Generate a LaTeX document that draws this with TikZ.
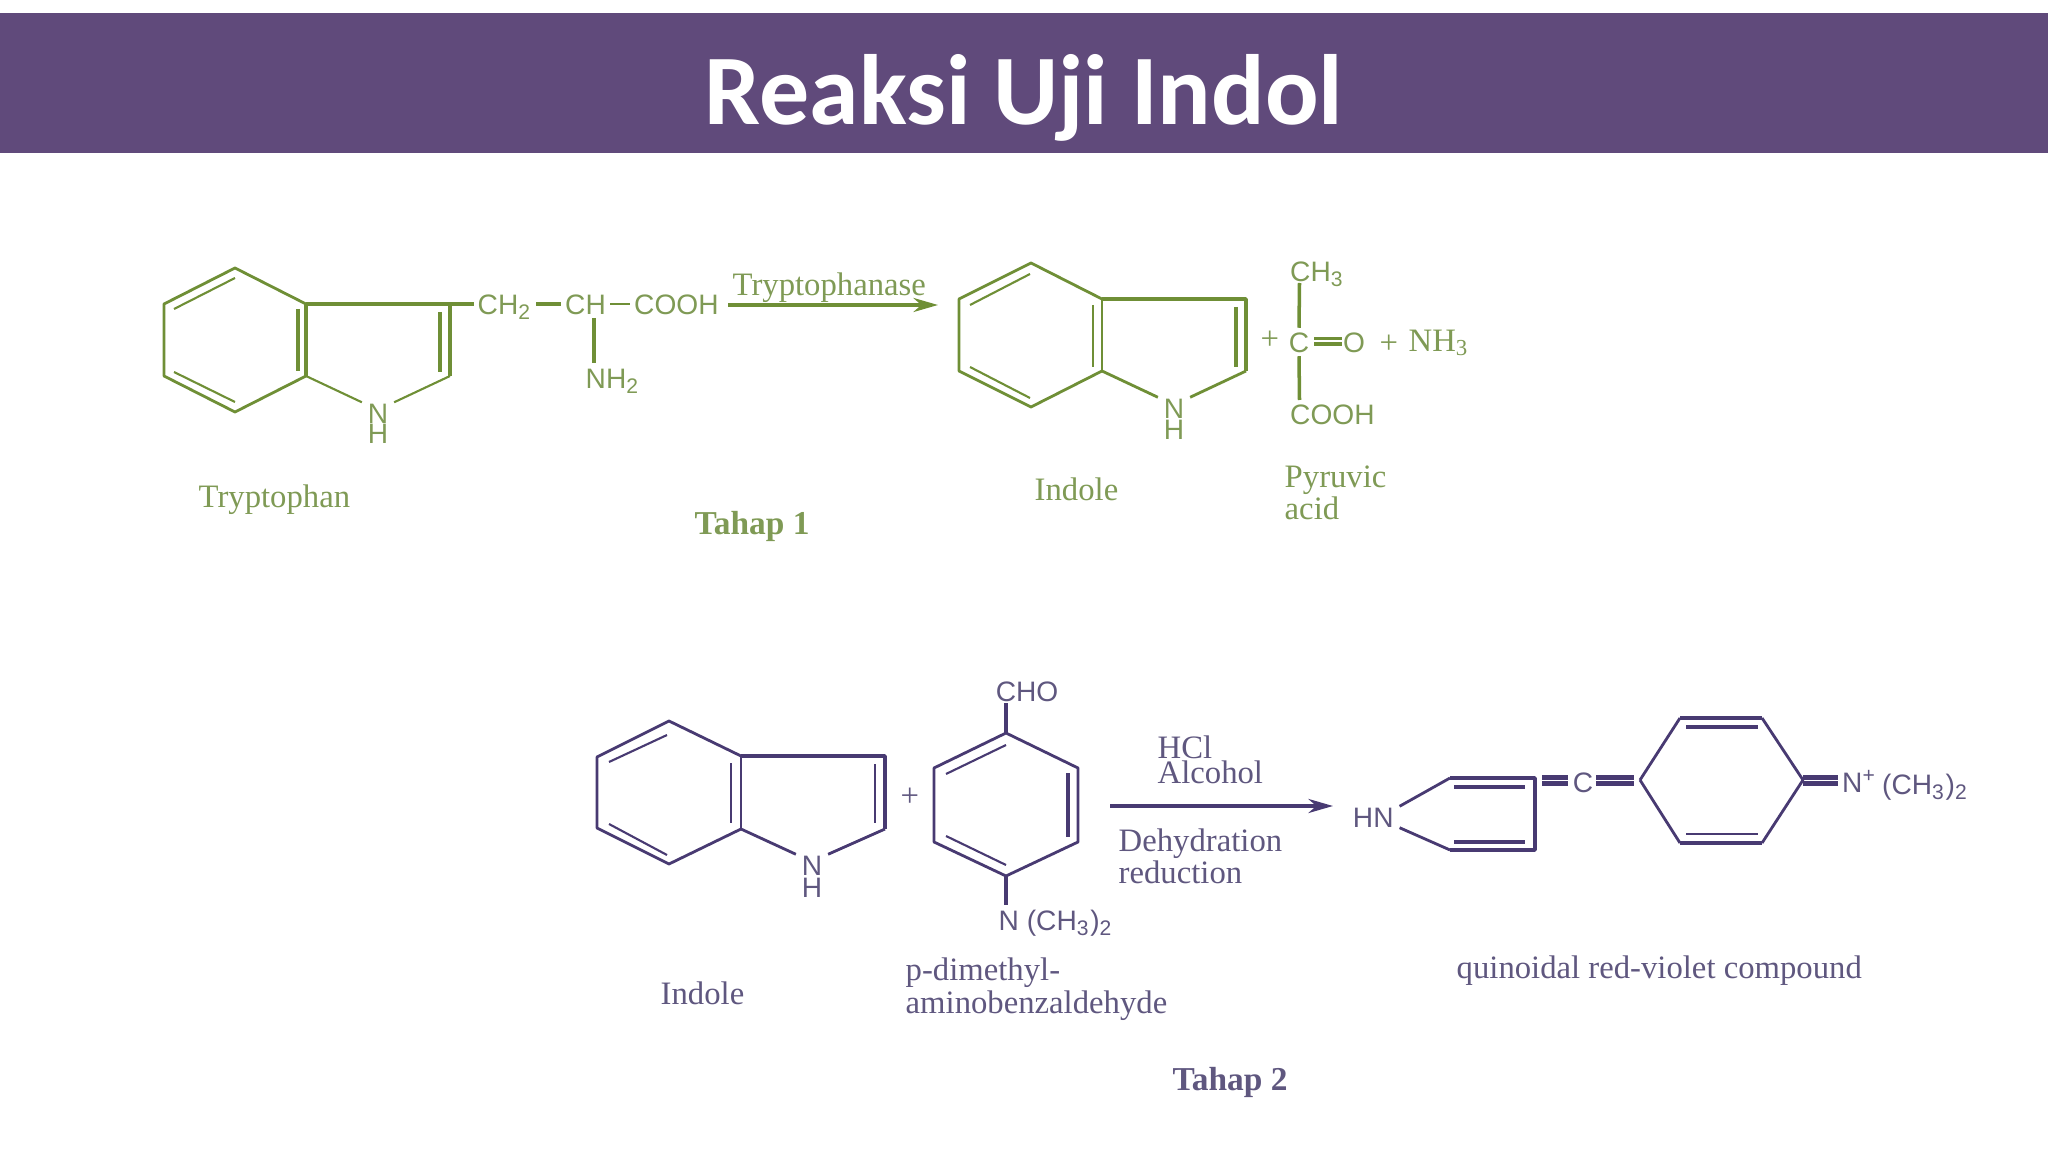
\documentclass[tikz,border=0pt]{standalone}
\usepackage{fontspec}
\usetikzlibrary{arrows.meta}
\setmainfont{Liberation Serif}
\newfontfamily\chemfont{Liberation Sans}
\newfontfamily\titlefont{Carlito}
\definecolor{bandcol}{HTML}{604A7B}
\definecolor{grnline}{HTML}{6F8F36}
\definecolor{grntext}{HTML}{7F9A55}
\definecolor{violine}{HTML}{483A72}
\definecolor{viotext}{HTML}{5F577F}
\tikzset{
  chem/.style={font=\fontsize{8}{9}\chemfont,inner sep=1pt,text height=5.7pt,text depth=0pt},
  ringn/.style={chem,inner xsep=1.5pt,inner ysep=0pt},
  lab/.style={font=\fontsize{9.3}{11}\selectfont,inner sep=0pt,anchor=west},
  labb/.style={font=\fontsize{9.5}{11}\selectfont\bfseries,inner sep=0pt,anchor=west},
  bond/.style={line width=.8pt},
  mid bond/.style={line width=1pt},
  thin bond/.style={line width=.6pt},
  fat bond/.style={line width=1.4pt},
  rxn/.style={line width=1pt,-{Stealth[length=7pt,width=4pt]}}
}
\begin{document}
\begin{tikzpicture}[x=0.01cm,y=-0.01cm,line join=round,line cap=butt]
\useasboundingbox (0,0) rectangle (2048,1152);
\fill[bandcol] (0,13) rectangle (2048,153);
\node[font=\fontsize{28.4}{32}\titlefont\bfseries,text=white] (title) at (1024,98) {Reaksi Uji Indol};
% tahap 1, tryptophan
\begin{scope}[color=grnline,text=grntext]
\draw[bond] (306,304)--(235,268)--(164,304)--(164,376)--(235,412)--(306,376);
\draw[thin bond] (174,309)--(235,278) (174,372)--(235,402);
\draw[mid bond] (306,304)--(306,376) (298,309)--(298,371);
\draw[mid bond] (450,304)--(450,376) (440,312)--(440,372);
\node[ringn] (trpn) at (378,413) {N};
\node[ringn] (trph) at (378,433) {H};
\draw[thin bond] (306,376)--(trpn.north west) (450,376)--(trpn.north east);
\node[chem,anchor=west] (trpch2) at (473.5,304) {CH\textsubscript{2}};
\node[chem,anchor=west] (trpch) at (561,304) {CH};
\node[chem,anchor=west] (trpcooh) at (630,304) {COOH};
\node[chem,anchor=west] (trpnh2) at (581.5,378) {NH\textsubscript{2}};
\coordinate (trpa) at (594,318);
\coordinate (trpb) at (594,363);
\draw[fat bond] (306,304)--(trpch2.west);
\draw[fat bond] (trpch2.east)--(trpch.west);
\draw[thin bond] (trpch.east)--(trpcooh.west);
\draw[mid bond] (trpa)--(trpb);
\node[lab] (trplab) at (198,500) {Tryptophan};
\node[labb] (tahap1) at (694,526) {Tahap 1};
% arrow 1
\node[lab] (enz) at (732,288) {Tryptophanase};
\coordinate (a1) at (728,305);
\coordinate (a2) at (938,305);
\draw[rxn] (a1)--(a2);
% indole and pyruvic acid
\draw[bond] (1102,299)--(1031,263)--(959,299)--(959,371)--(1031,407)--(1102,371);
\draw[thin bond] (970,305)--(1030,274) (970,367)--(1030,398);
\draw[bond] (1102,299)--(1102,371) (1093,305)--(1093,367);
\draw[mid bond] (1102,299)--(1246,299)--(1246,371) (1236,307)--(1236,367);
\node[ringn] (indn) at (1174,408) {N};
\node[ringn] (indh) at (1174,429) {H};
\draw[bond] (1102,371)--(indn.north west) (1246,371)--(indn.north east);
\node[lab] (plus1) at (1260,340) {+};
\node[chem] (pyrc) at (1299,342) {C};
\node[chem] (pyro) at (1354,342) {O};
\node[chem,anchor=west] (pyrch3) at (1286,271) {CH\textsubscript{3}};
\node[chem,anchor=west] (pyrcooh) at (1286,414) {COOH};
\coordinate (pc1) at (1299.5,283);
\coordinate (pc2) at (1299.5,400);
\draw[mid bond] (pc1)--(pyrc.north) (pyrc.south)--(pc2);
\draw[mid bond] (1314,338.5)--(1342,338.5) (1314,344)--(1342,344);
\node[lab] (plus2) at (1379,344) {+};
\node[lab] (nh3) at (1408,343) {NH\textsubscript{3}};
\node[lab] (indlab) at (1034,489) {Indole};
\node[lab] (pyr1) at (1284,480) {Pyruvic};
\node[lab] (pyr2) at (1284,508) {acid};
\end{scope}
% tahap 2, indole
\begin{scope}[color=violine,text=viotext]
\draw[bond] (741,756)--(669,721)--(597,757)--(597,828)--(669,864)--(741,829);
\draw[thin bond] (609,762)--(667,735) (609,824)--(667,855);
\draw[bond] (741,756)--(741,829) (731,763)--(731,823);
\draw[mid bond] (741,756)--(885,756)--(885,829);
\draw[thin bond] (875,764)--(875,823);
\node[ringn] (vin) at (812,865) {N};
\node[ringn] (vih) at (812,887) {H};
\draw[bond] (741,829)--(vin.north west) (885,829)--(vin.north east);
\node[lab] (plus3) at (900,797) {+};
% benzaldehyde
\coordinate (btop) at (1006,733);
\coordinate (bbot) at (1006,876);
\draw[bond] (btop)--(934,768)--(934,842)--(bbot)--(1078,842)--(1078,768)--cycle;
\draw[thin bond] (946,774)--(1006,745) (946,836)--(1006,865);
\draw[mid bond] (1068,773)--(1068,837);
\node[chem] (cho) at (1027,691) {CHO};
\node[chem,anchor=west] (nme) at (994.5,920) {N (CH\textsubscript{3})\textsubscript{2}};
\coordinate (bn) at (1006,905);
\coordinate (bc) at (1006,703);
\draw[mid bond] (bc)--(btop) (bbot)--(bn);
\node[lab] (hcl) at (1157,747) {HCl};
\node[lab] (alc) at (1157,772) {Alcohol};
\coordinate (a3) at (1110,806);
\coordinate (a4) at (1333,806);
\draw[rxn] (a3)--(a4);
\node[lab] (deh) at (1118,844) {Dehydration};
\node[lab] (red) at (1118,872) {reduction};
% quinoidal compound
\node[ringn,anchor=west] (hn) at (1347,817) {HN};
\coordinate (q1) at (1450,778);
\coordinate (q2) at (1535,778);
\coordinate (q3) at (1535,850);
\coordinate (q4) at (1450,850);
\draw[bond] (q1)--(hn.north east) (hn.south east)--(q4);
\draw[mid bond] (q1)--(q2)--(q3)--(q4);
\draw[line width=.9pt] (1454,787)--(1525,787);
\draw[fat bond] (1454,842)--(1525,842);
\node[chem] (qc) at (1583,782) {C};
\coordinate (r1) at (1640,780);
\coordinate (r2) at (1680,718);
\coordinate (r3) at (1762,718);
\coordinate (r4) at (1803,780);
\coordinate (r5) at (1762,843);
\coordinate (r6) at (1680,843);
\draw[bond] (r1)--(r2) (r3)--(r4)--(r5) (r6)--(r1);
\draw[mid bond] (r2)--(r3);
\draw[fat bond] (r5)--(r6);
\draw[fat bond] (1686,727)--(1758,727);
\draw[thin bond] (1686,834)--(1758,834);
\draw[line width=1.3pt] (1542,777.5)--(1568,777.5) (1542,783.5)--(1568,783.5);
\draw[line width=1.3pt] (1596,777.5)--(1634,777.5) (1596,783.5)--(1634,783.5);
\draw[line width=1.3pt] (1803,777.5)--(1838,777.5) (1803,783.5)--(1838,783.5);
\node[chem,anchor=west] (qn) at (1838,782) {N\textsuperscript{+}};
\node[chem,anchor=west] (qme) at (1878,784) {(CH\textsubscript{3})\textsubscript{2}};
\node[lab] (vilab) at (660,993) {Indole};
\node[lab] (bz1) at (905,973) {p-dimethyl-};
\node[lab] (bz2) at (905,1006) {aminobenzaldehyde};
\node[lab] (qlab) at (1456,971) {quinoidal red-violet compound};
\node[labb] (tahap2) at (1172,1082) {Tahap 2};
\end{scope}
\end{tikzpicture}
\end{document}
